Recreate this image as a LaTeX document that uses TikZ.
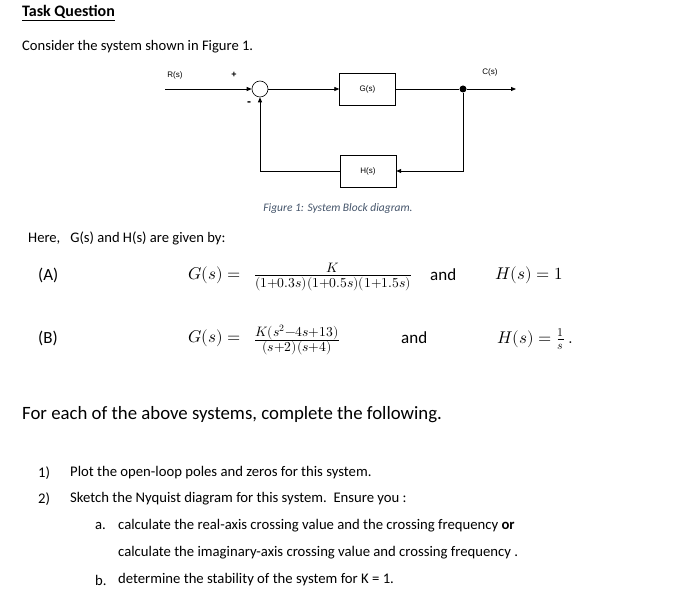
\documentclass[tikz,border=0pt]{standalone}
\usepackage{unicode-math}
\setmainfont{Carlito}
\setmathfont{Latin Modern Math}
\newfontfamily\arialf{Liberation Sans}
\usetikzlibrary{arrows.meta}
\definecolor{capc}{RGB}{68,84,106}
\begin{document}
\begin{tikzpicture}[x=1pt,y=-1pt,
  txt/.style={anchor=west,inner sep=0pt,font=\fontsize{14.6}{16}\selectfont},
  ltxt/.style={anchor=west,inner sep=0pt,font=\fontsize{14.7}{16}\selectfont},
  blk/.style={draw,minimum width=56,minimum height=32,inner sep=0pt,font=\arialf\fontsize{8}{9}\selectfont},
  lbl/.style={inner sep=0pt,font=\arialf\fontsize{8}{9}\selectfont},
  eq/.style={inner sep=0pt,font=\fontsize{17}{19}\selectfont},
  frc/.style={inner sep=0pt,font=\fontsize{19.5}{21}\selectfont},
  arr/.style={-{Triangle[length=5pt,width=4pt]},line width=0.8pt},
  ln/.style={line width=0.8pt}]
\useasboundingbox (0,0) rectangle (686,601);
\node[txt,font=\bfseries\fontsize{16}{18}\selectfont] (title) at (22,13) {\underline{Task Question}};
\node[txt] (t1) at (22,47) {Consider the system shown in Figure 1.};
% block diagram
\coordinate (rin) at (165,89);
\node[draw,circle,minimum size=16,inner sep=0pt,line width=0.6pt] (sum) at (260,89) {};
\node[blk] (G) at (367.5,89) {G(s)};
\node[blk] (H) at (368,171) {H(s)};
\node[circle,fill,inner sep=0pt,minimum size=7] (dot) at (463,89) {};
\coordinate (cout) at (516,89);
\coordinate (fb1) at (463,171);
\coordinate (fb2) at (260,171);
\node[lbl] (R) at (175,75) {R(s)};
\node[lbl] (C) at (490,72) {C(s)};
\node[lbl,font=\bfseries\arialf\fontsize{9}{9}\selectfont] (plus) at (234,75) {+};
\node[lbl,font=\bfseries\arialf\fontsize{12}{9}\selectfont] (minus) at (249,104) {-};
\draw[arr] (rin) -- (sum);
\draw[arr] (sum) -- (G);
\draw[ln] (G) -- (dot);
\draw[arr] (dot) -- (cout);
\draw[arr] (dot) -- (fb1) -- (H);
\draw[arr] (H) -- (fb2) -- (sum);
\node[inner sep=0pt,font=\itshape\fontsize{11.5}{13}\selectfont,text=capc] (cap) at (338,208) {Figure 1: System Block diagram.};
\node[txt] (here) at (28,238) {Here,\ \ \ G(s) and H(s) are given by:};
% (A)
\node[eq,anchor=west] (A) at (38,275) {(A)};
\node[eq,anchor=west] (GA) at (188,275) {$G(s) =$};
\node[frc] (FA) at (333,277) {$\frac{K}{(1+0.3s)(1+0.5s)(1+1.5s)}$};
\node[txt,font=\fontsize{17}{19}\selectfont] (andA) at (430,275) {and};
\node[eq,anchor=west] (HA) at (495,275) {$H(s) = 1$};
% (B)
\node[eq,anchor=west] (B) at (38,338) {(B)};
\node[eq,anchor=west] (GB) at (188,338) {$G(s) =$};
\node[frc] (FB) at (297,340) {$\frac{K(s^2-4s+13)}{(s+2)(s+4)}$};
\node[txt,font=\fontsize{17}{19}\selectfont] (andB) at (401,338) {and};
\node[eq,anchor=west] (HB) at (497,339) {$H(s) = \frac{1}{s}\ .$};
\node[txt,font=\fontsize{18.8}{21}\selectfont] (each) at (22,415) {For each of the above systems, complete the following.};
\node[ltxt] (n1) at (38,473) {1)};
\node[ltxt] (i1) at (70,473) {Plot the open-loop poles and zeros for this system.};
\node[ltxt] (n2) at (38,499) {2)};
\node[ltxt] (i2) at (70,499) {Sketch the Nyquist diagram for this system.\ \ Ensure you :};
\node[ltxt] (na) at (95,526) {a.};
\node[ltxt] (ia) at (118,526) {calculate the real-axis crossing value and the crossing frequency \textbf{or}};
\node[ltxt] (ia2) at (118,553) {calculate the imaginary-axis crossing value and crossing frequency .};
\node[ltxt] (nb) at (95,580) {b.};
\node[ltxt] (ib) at (118,580) {determine the stability of the system for K = 1.};
\end{tikzpicture}
\end{document}
